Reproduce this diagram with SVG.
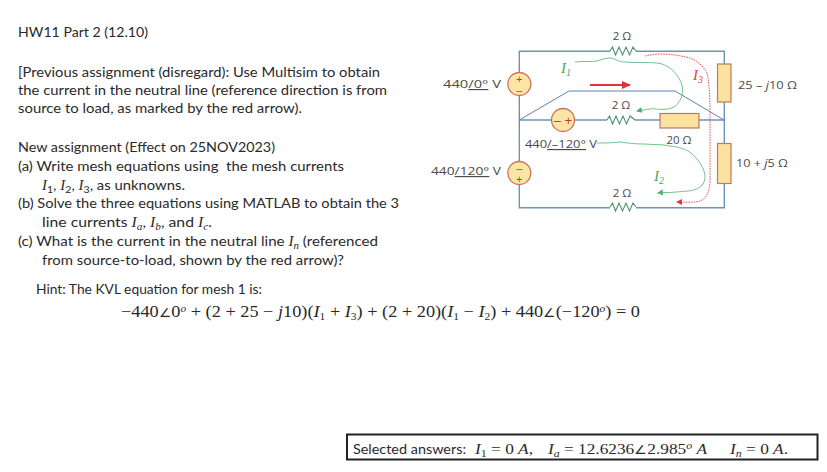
<svg xmlns="http://www.w3.org/2000/svg" width="827" height="472" viewBox="0 0 827 472">
<defs>
<marker id="ag" markerWidth="7" markerHeight="6" refX="5" refY="3" orient="auto" markerUnits="userSpaceOnUse"><path d="M0 0L6 3L0 6Z" fill="#4fb56c"/></marker>
<marker id="ar" markerWidth="7" markerHeight="6" refX="5" refY="3" orient="auto" markerUnits="userSpaceOnUse"><path d="M0 0L6 3L0 6Z" fill="#e8303a"/></marker>
<marker id="arrow" markerWidth="9" markerHeight="8" refX="8" refY="4" orient="auto" markerUnits="userSpaceOnUse"><path d="M0 0L9 4L0 8Z" fill="#e8303a"/></marker>
</defs>
<style>
text{font-family:"Lato","Open Sans","Liberation Sans",sans-serif;font-size:14px;fill:#2a2a2a}
.i{font-style:italic;font-family:"Liberation Serif",serif}
.s{font-size:10px}
.a{font-size:12px;font-style:normal}
.l{font-family:"Open Sans","Liberation Sans",sans-serif;font-size:11.5px;fill:#4a4a4a}
.w{fill:none;stroke:#6f93b8;stroke-width:1.4}
.d{fill:none;stroke:#5c82ad;stroke-width:1}
.r{fill:none;stroke:#4f9070;stroke-width:1.1}
.src{fill:#fbe6a6;stroke:#d0705c;stroke-width:1.3}
.box{fill:#fbe2a0;stroke:#bd7a62;stroke-width:1.2}
.g{fill:none;stroke:#62bd7e;stroke-width:.9}
.rd{fill:none;stroke:#e8404a;stroke-width:.9;stroke-dasharray:1.6 1}
.sym{font-family:"Liberation Sans",sans-serif;font-size:13px;fill:#c0392b;text-anchor:middle}
.eq,.eq tspan{font-family:"Liberation Serif",serif}
.eq{font-size:16px}
.ans{font-family:"Liberation Serif",serif;font-size:14.5px}
.v{font-size:10.5px}
</style>

<g id="connectors">
<path class="w" d="M610 51.300H519.300V207.700H610M636 51.300H724.300V207.700H636M519.300 120H607M635 120H660M699 120H724.300"/>
<path class="d" d="M519.300 120L569 91H675L724 120"/>
<path d="M590 85H630" fill="none" stroke="#e8303a" stroke-width="2.200" marker-end="url(#arrow)"/>
<path class="g" d="M575 62C583 61 592 62 597 61C603 59 606 58 611 58C616 59 618 62 625 62C635 63 648 62 657 63C668 64 676 72 681 82C685 92 681 104 672 108C662 111 655 108 650 109C645 110 642 110 637 111" marker-end="url(#ag)"/>
<path class="g" d="M597 143C605 143 612 143 620 142C628 143 634 144 645 144C655 145 662 144 670 146C680 147 690 150 696 158C703 166 708 176 703 184C697 192 685 191 676 192C670 193 665 192 658 193" marker-end="url(#ag)"/>
<path class="rd" d="M645 56C650 55 655 54 660 54C672 54 682 56 690 58C698 61 703 66 707 73C710 85 710 105 710 120C710 140 710 165 710 180C710 192 706 199 700 201C693 203 685 202 677 202" marker-end="url(#ar)"/>
</g>

<g id="r-top"><path class="r" d="M610 51L612.500 47L615.500 55L619 47L622.500 55L626 47L629.500 55L633 47L636 51"/><text class="l" x="622" y="40" text-anchor="middle">2 Ω</text></g>
<g id="r-mid"><path class="r" d="M607 120L609.500 116L612.500 124L616 116L619.500 124L623 116L626.500 124L630 116L635 120"/><text class="l" x="621" y="109" text-anchor="middle">2 Ω</text></g>
<g id="r-bot"><path class="r" d="M610 207L612.500 203L615.500 211L619 203L622.500 211L626 203L629.500 211L633 203L636 207"/><text class="l" x="622" y="197" text-anchor="middle">2 Ω</text></g>
<g id="r-neutral"><rect class="box" x="660" y="113.500" width="39" height="14.500"/><text class="l" x="679" y="144" text-anchor="middle">20 Ω</text></g>
<g id="z-a"><rect class="box" x="717.500" y="64" width="13.500" height="38"/><text class="l" x="738" y="89" textLength="59" lengthAdjust="spacingAndGlyphs">25 – <tspan font-style="italic">j</tspan>10 Ω</text></g>
<g id="z-b"><rect class="box" x="717.500" y="143.500" width="13.500" height="40"/><text class="l" x="736" y="167" textLength="52" lengthAdjust="spacingAndGlyphs">10 + <tspan font-style="italic">j</tspan>5 Ω</text></g>
<g id="v-a"><circle class="src" cx="519.300" cy="84" r="11.500"/><text class="sym v" x="519.300" y="82.500">+</text><text class="sym v" x="519.300" y="93.500">–</text><text class="l" x="443" y="88" textLength="58" lengthAdjust="spacingAndGlyphs">440<tspan text-decoration="underline">/0°</tspan> V</text></g>
<g id="v-b"><circle class="src" cx="563" cy="120" r="11.500"/><text class="sym" x="563" y="124.500">– +</text><text class="l" x="525" y="148" textLength="72" lengthAdjust="spacingAndGlyphs">440<tspan text-decoration="underline">/–120°</tspan> V</text></g>
<g id="v-c"><circle class="src" cx="519.300" cy="173" r="11.500"/><text class="sym v" x="519.300" y="171.500">–</text><text class="sym v" x="519.300" y="182.500">+</text><text class="l" x="431" y="175" textLength="70" lengthAdjust="spacingAndGlyphs">440<tspan text-decoration="underline">/120°</tspan> V</text></g>

<g id="mesh-labels">
<text class="i" x="561" y="73" style="fill:#45a860;font-size:15px">I<tspan class="s" dy="3">1</tspan></text>
<text class="i" x="693" y="80" style="fill:#e8404a;font-size:15px">I<tspan class="s" dy="3">3</tspan></text>
<text class="i" x="654" y="181" style="fill:#45a860;font-size:15px">I<tspan class="s" dy="3">2</tspan></text>
</g>

<g id="text">
<text x="18" y="37" textLength="130" lengthAdjust="spacingAndGlyphs">HW11 Part 2 (12.10)</text>
<text x="18" y="77" textLength="362" lengthAdjust="spacingAndGlyphs">[Previous assignment (disregard): Use Multisim to obtain</text>
<text x="18" y="95" textLength="369" lengthAdjust="spacingAndGlyphs">the current in the neutral line (reference direction is from</text>
<text x="18" y="113" textLength="284" lengthAdjust="spacingAndGlyphs">source to load, as marked by the red arrow).</text>
<text x="18" y="152" textLength="257" lengthAdjust="spacingAndGlyphs">New assignment (Effect on 25NOV2023)</text>
<text x="18" y="171" textLength="326" lengthAdjust="spacingAndGlyphs" xml:space="preserve">(a) Write mesh equations using  the mesh currents</text>
<text x="42" y="190" textLength="143" lengthAdjust="spacingAndGlyphs"><tspan class="i">I</tspan><tspan class="s" dy="3">1</tspan><tspan dy="-3">, </tspan><tspan class="i">I</tspan><tspan class="s" dy="3">2</tspan><tspan dy="-3">, </tspan><tspan class="i">I</tspan><tspan class="s" dy="3">3</tspan><tspan dy="-3">, as unknowns.</tspan></text>
<text x="18" y="208" textLength="381" lengthAdjust="spacingAndGlyphs">(b) Solve the three equations using MATLAB to obtain the 3</text>
<text x="42" y="227" textLength="170" lengthAdjust="spacingAndGlyphs">line currents <tspan class="i">I</tspan><tspan class="s i" dy="3">a</tspan><tspan dy="-3">, </tspan><tspan class="i">I</tspan><tspan class="s i" dy="3">b</tspan><tspan dy="-3">, and </tspan><tspan class="i">I</tspan><tspan class="s i" dy="3">c</tspan><tspan dy="-3">.</tspan></text>
<text x="18" y="246" textLength="360" lengthAdjust="spacingAndGlyphs">(c) What is the current in the neutral line <tspan class="i">I</tspan><tspan class="s i" dy="3">n</tspan><tspan dy="-3"> (referenced</tspan></text>
<text x="42" y="265" textLength="302" lengthAdjust="spacingAndGlyphs">from source-to-load, shown by the red arrow)?</text>
<text x="36" y="294" textLength="226" lengthAdjust="spacingAndGlyphs">Hint: The KVL equation for mesh 1 is:</text>
<text class="eq" x="121" y="317" textLength="519" lengthAdjust="spacingAndGlyphs">−440<tspan class="a">∠</tspan>0<tspan class="s" dy="-5" font-style="italic">o</tspan><tspan dy="5"> + (2 + 25 − </tspan><tspan class="i">j</tspan>10)(<tspan class="i">I</tspan><tspan class="s" dy="3">1</tspan><tspan dy="-3"> + </tspan><tspan class="i">I</tspan><tspan class="s" dy="3">3</tspan><tspan dy="-3">) + (2 + 20)(</tspan><tspan class="i">I</tspan><tspan class="s" dy="3">1</tspan><tspan dy="-3"> − </tspan><tspan class="i">I</tspan><tspan class="s" dy="3">2</tspan><tspan dy="-3">) + 440</tspan><tspan class="a">∠</tspan>(−120<tspan class="s" dy="-5" font-style="italic">o</tspan><tspan dy="5">) = 0</tspan></text>
</g>

<g id="answer-box">
<rect x="347" y="434.500" width="470.500" height="25" fill="#fff" stroke="#222" stroke-width="2"/>
<text x="353" y="454" textLength="113" lengthAdjust="spacingAndGlyphs">Selected answers:</text>
<text class="ans" x="475" y="454" textLength="58" lengthAdjust="spacingAndGlyphs"><tspan class="i">I</tspan><tspan class="s" dy="3">1</tspan><tspan dy="-3"> = 0 </tspan><tspan class="i">A</tspan>,</text>
<text class="ans" x="548" y="454" textLength="159" lengthAdjust="spacingAndGlyphs"><tspan class="i">I</tspan><tspan class="s i" dy="3">a</tspan><tspan dy="-3"> = 12.6236</tspan><tspan class="a">∠</tspan>2.985<tspan class="s i" dy="-5">o</tspan><tspan dy="5"> </tspan><tspan class="i">A</tspan></text>
<text class="ans" x="730" y="454" textLength="58" lengthAdjust="spacingAndGlyphs"><tspan class="i">I</tspan><tspan class="s i" dy="3">n</tspan><tspan dy="-3"> = 0 </tspan><tspan class="i">A</tspan>.</text>
</g>
</svg>
